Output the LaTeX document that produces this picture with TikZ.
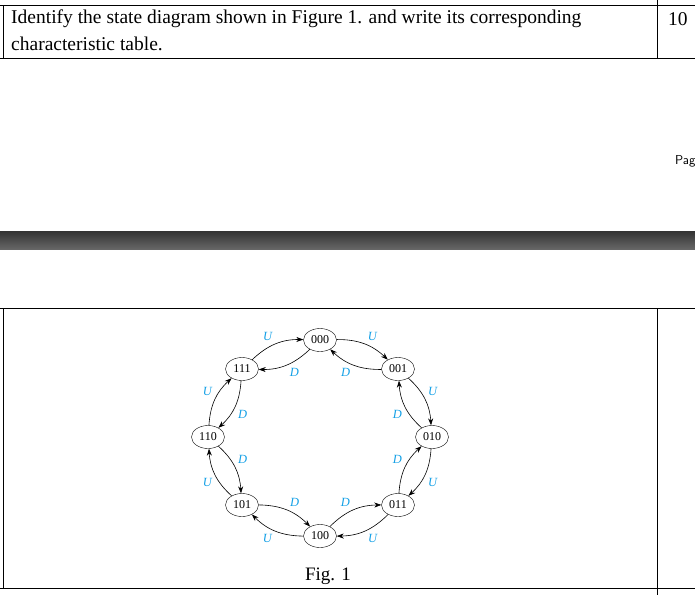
\documentclass[tikz,border=0pt]{standalone}
\usepackage{fontspec}
\setmainfont{Liberation Serif}
\usetikzlibrary{shapes.geometric,arrows.meta}
\definecolor{lblue}{RGB}{20,160,230}
\begin{document}
\begin{tikzpicture}[x=1pt,y=-1pt,
  st/.style={draw,ellipse,inner sep=0pt,minimum width=33pt,minimum height=23pt,font=\fontsize{12}{12}\selectfont},
  tr/.style={-{Stealth[length=7pt,width=5pt]},semithick,bend left=22},
  lb/.style={auto,font=\fontsize{12.5}{12.5}\selectfont\itshape,text=lblue,inner sep=3pt},
  rule/.style={line width=0.8pt}]
\useasboundingbox (0,0) rectangle (695,595);
% top table
\draw[rule] (0,5) -- (695,5);
\draw[rule] (0,58) -- (695,58);
\draw[rule] (3,5) -- (3,58);
\draw[rule] (657,0) -- (657,58);
\node[anchor=west,inner sep=0pt,font=\fontsize{19.5}{19.5}\selectfont] (q1) at (11,19) {Identify the state diagram shown in Figure 1. and write its corresponding};
\node[anchor=west,inner sep=0pt,font=\fontsize{19.5}{19.5}\selectfont] (q2) at (11,44) {characteristic table.};
\node[anchor=west,inner sep=0pt,font=\fontsize{19.5}{19.5}\selectfont] (pts) at (668,19) {10};
\node[anchor=west,inner sep=0pt,font=\sffamily\fontsize{13}{13}\selectfont] (pag) at (675,161) {Pag};
% gray band
\shade[top color=black!80,bottom color=black!60] (0,231) rectangle (695,249);
% bottom table
\draw[rule] (0,308) -- (695,308);
\draw[rule] (0,588) -- (695,588);
\draw[rule] (3,308) -- (3,588);
\draw[rule] (657,308) -- (657,595);
% states
\node[st] (s0) at (320,340) {000};
\node[st] (s1) at (398,369) {001};
\node[st] (s2) at (432,437) {010};
\node[st] (s3) at (398,505) {011};
\node[st] (s4) at (320,536) {100};
\node[st] (s5) at (242,505) {101};
\node[st] (s6) at (208,437) {110};
\node[st] (s7) at (242,369) {111};
% U transitions
\draw[tr] (s7) to node[lb] {U} (s0);
\draw[tr] (s0) to node[lb] {U} (s1);
\draw[tr] (s1) to node[lb] {U} (s2);
\draw[tr] (s2) to node[lb] {U} (s3);
\draw[tr] (s3) to node[lb] {U} (s4);
\draw[tr] (s4) to node[lb] {U} (s5);
\draw[tr] (s5) to node[lb] {U} (s6);
\draw[tr] (s6) to node[lb] {U} (s7);
% D transitions
\draw[tr] (s0) to node[lb] {D} (s7);
\draw[tr] (s1) to node[lb] {D} (s0);
\draw[tr] (s2) to node[lb] {D} (s1);
\draw[tr] (s3) to node[lb] {D} (s2);
\draw[tr] (s4) to node[lb] {D} (s3);
\draw[tr] (s5) to node[lb] {D} (s4);
\draw[tr] (s6) to node[lb] {D} (s5);
\draw[tr] (s7) to node[lb] {D} (s6);
\node[font=\fontsize{19}{19}\selectfont] (cap) at (328,576) {Fig. 1};
\end{tikzpicture}
\end{document}
